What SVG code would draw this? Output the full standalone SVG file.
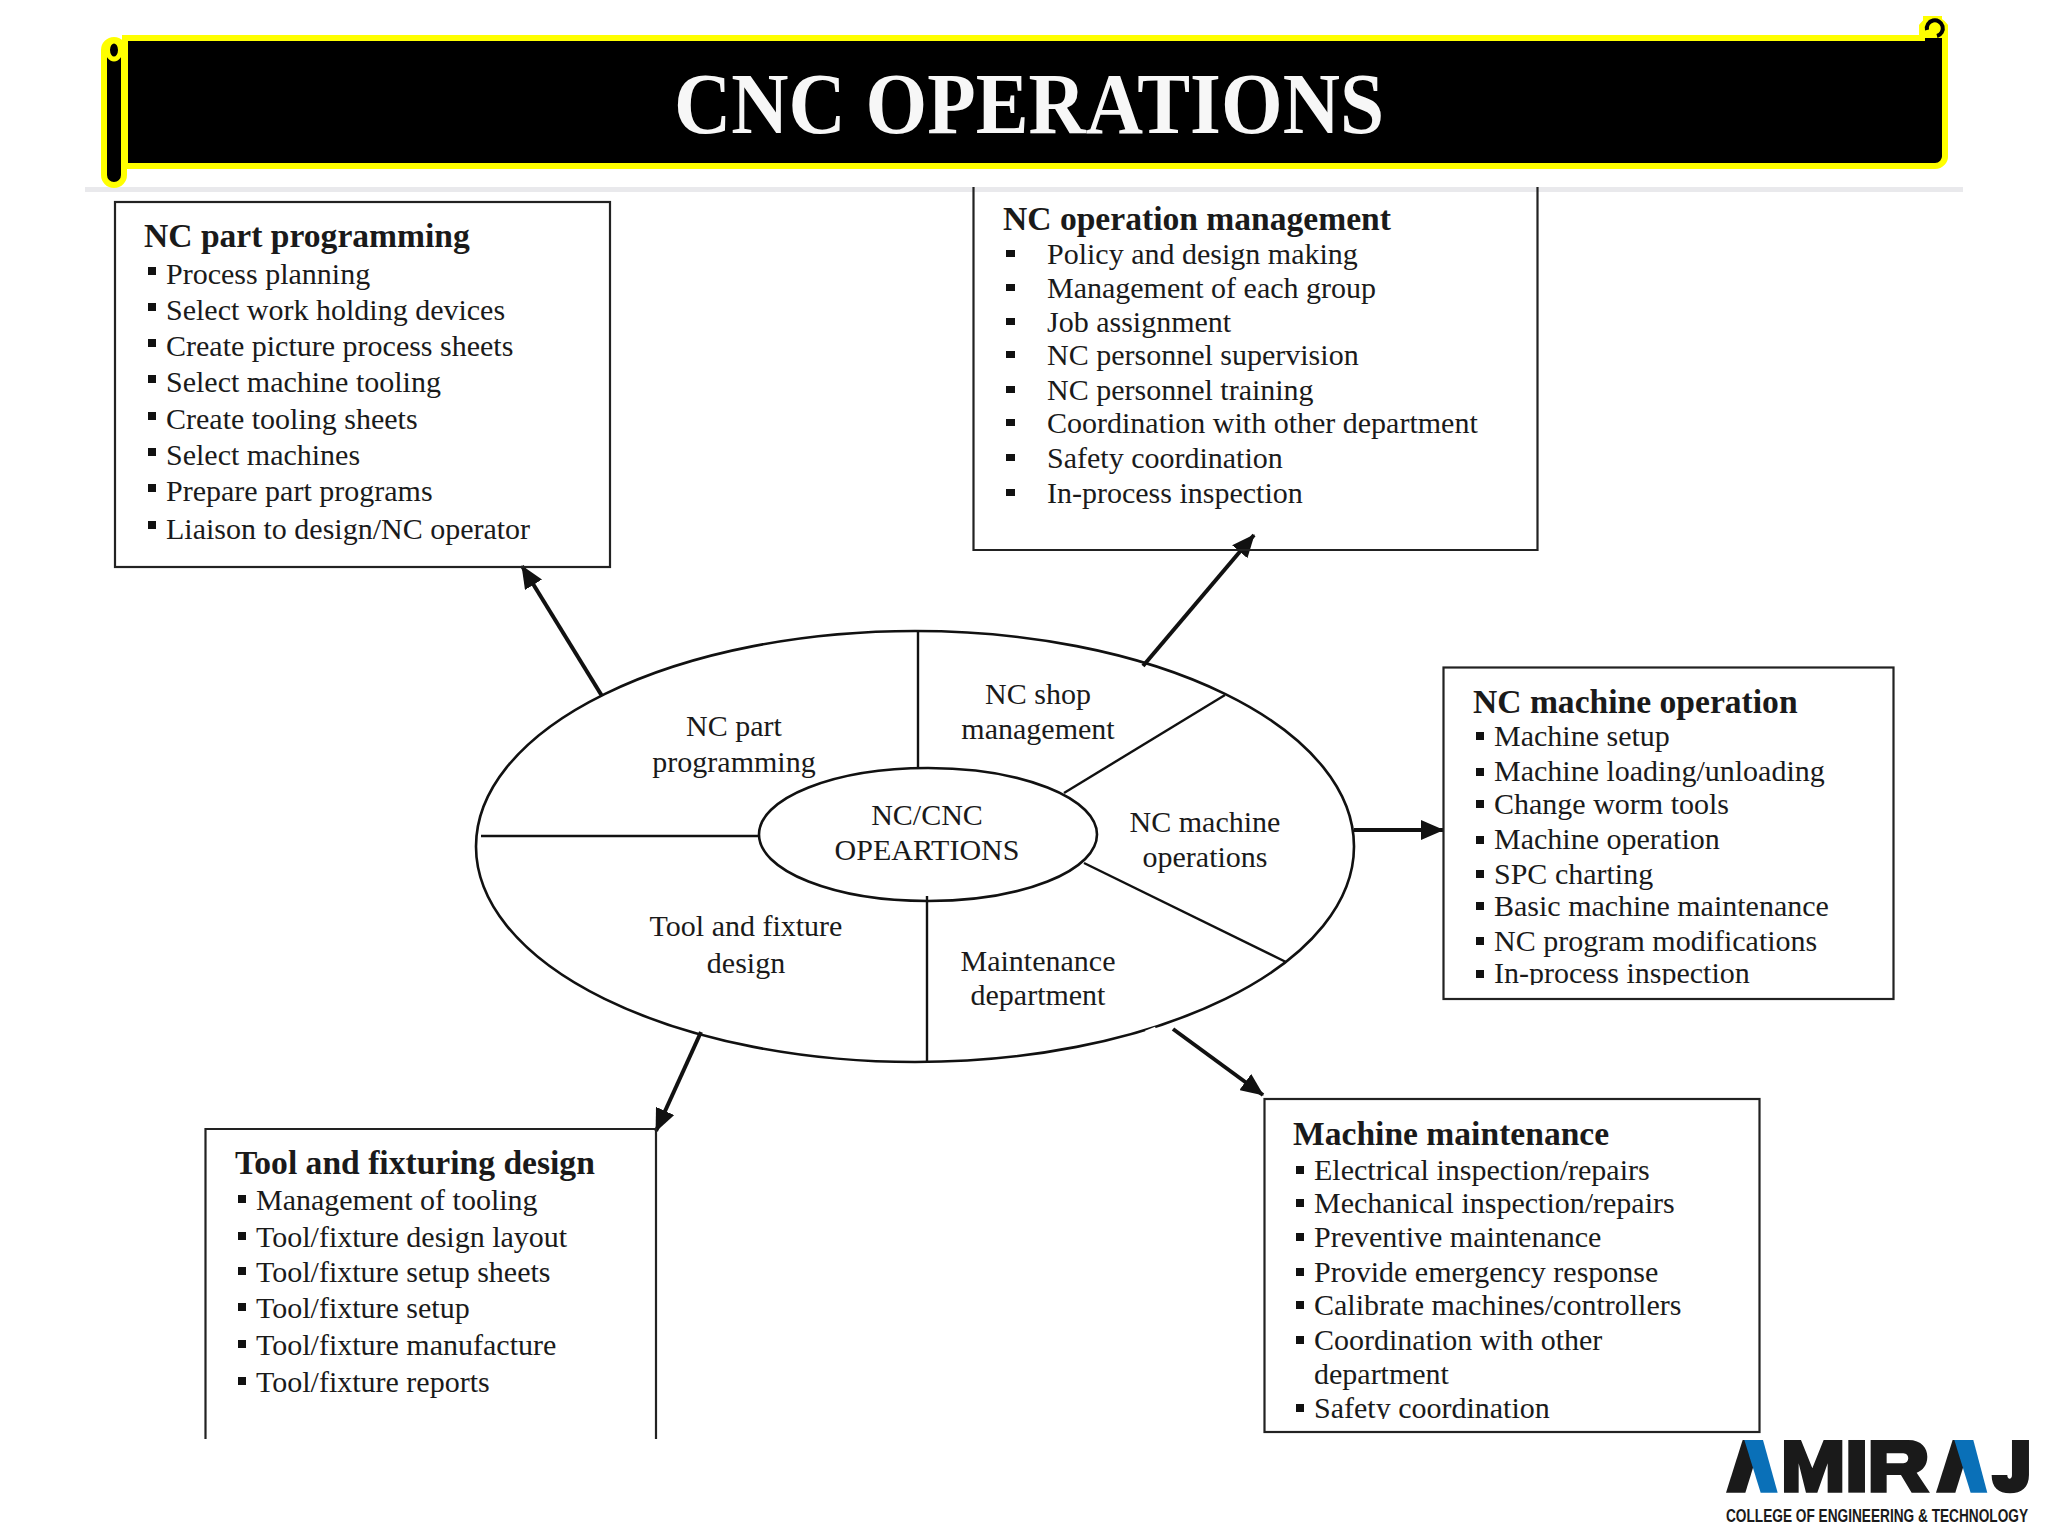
<svg xmlns="http://www.w3.org/2000/svg" width="2048" height="1536" viewBox="0 0 2048 1536">
<style>
text{font-family:"Liberation Serif","Times New Roman",serif;fill:#1a1a1a;font-size:30px}
.h{font-weight:bold;font-size:33.6px}
.c{text-anchor:middle}
.box{fill:none;stroke:#222;stroke-width:2.2}
.b{fill:#111}
.div{stroke:#111;stroke-width:2.4;fill:none}
.arr{stroke:#111;stroke-width:4;fill:none;marker-end:url(#ah)}
.k{fill:#1a1a1a}
.bl{fill:#0a70b8}
</style>
<defs>
<marker id="ah" markerUnits="userSpaceOnUse" markerWidth="24" markerHeight="20" refX="22" refY="10" orient="auto"><path d="M0 0L23 10L0 20Z" fill="#111"/></marker>
<clipPath id="c3"><rect x="1440" y="960" width="460" height="25"/></clipPath>
<clipPath id="c4"><rect x="1260" y="1390" width="500" height="29"/></clipPath>
</defs>
<rect width="2048" height="1536" fill="#fff"/>
<g id="banner">
<rect x="85" y="187" width="1878" height="5" fill="#e9e9ec"/>
<path d="M125 38H1922V26A14 14 0 0 1 1945 26V155A10 10 0 0 1 1935 166H125Z" fill="#000" stroke="#ff0" stroke-width="6"/>
<rect x="104" y="40" width="20" height="145" rx="10" fill="#000" stroke="#ff0" stroke-width="6"/>
<ellipse cx="114" cy="50" rx="6.5" ry="9" fill="#000" stroke="#ff0" stroke-width="5"/>
<path d="M1923 16H1942V38H1923Z" fill="#ff0"/>
<path d="M1927 30A8 8 0 1 1 1937 36" fill="none" stroke="#000" stroke-width="4"/>
<text x="674" y="133" textLength="710" lengthAdjust="spacingAndGlyphs" style="font-weight:bold;fill:#f7f7f7;font-size:86px">CNC OPERATIONS</text>
</g>
<g id="connectors">
<line class="arr" x1="602" y1="696" x2="522" y2="566"/>
<line class="arr" x1="1143" y1="666" x2="1254" y2="535"/>
<line class="arr" x1="1354" y1="830" x2="1443" y2="830"/>
<line class="arr" x1="1173" y1="1029" x2="1263" y2="1095"/>
<line class="arr" x1="701" y1="1032" x2="656" y2="1131"/>
</g>
<g id="wheel">
<ellipse cx="915" cy="846.5" rx="439" ry="215.5" class="div" style="stroke-width:2.6"/>
<line x1="1146" y1="1033" x2="1156" y2="1029" stroke="#fff" stroke-width="5"/>
<ellipse cx="928" cy="834.5" rx="169" ry="66.5" class="div" style="stroke-width:2.6"/>
<line class="div" x1="918" y1="631" x2="918" y2="768"/>
<line class="div" x1="481" y1="836" x2="759" y2="836"/>
<line class="div" x1="1064" y1="793" x2="1225" y2="695"/>
<line class="div" x1="1084" y1="863" x2="1286" y2="962"/>
<line class="div" x1="927" y1="896" x2="927" y2="1062"/>
<text class="c" x="734" y="736">NC part</text><text class="c" x="734" y="772">programming</text>
<text class="c" x="1038" y="704">NC shop</text><text class="c" x="1038" y="739">management</text>
<text class="c" x="927" y="825">NC/CNC</text><text class="c" x="927" y="860">OPEARTIONS</text>
<text class="c" x="1205" y="832">NC machine</text><text class="c" x="1205" y="867">operations</text>
<text class="c" x="746" y="936">Tool and fixture</text><text class="c" x="746" y="973">design</text>
<text class="c" x="1038" y="971">Maintenance</text><text class="c" x="1038" y="1005">department</text>
</g>
<g id="part-programming">
<rect class="box" x="115" y="202" width="495" height="365"/>
<text class="h" x="144" y="247">NC part programming</text>
<text x="166" y="284">Process planning</text><text x="166" y="320">Select work holding devices</text><text x="166" y="356">Create picture process sheets</text><text x="166" y="392">Select machine tooling</text><text x="166" y="429">Create tooling sheets</text><text x="166" y="465">Select machines</text><text x="166" y="501">Prepare part programs</text><text x="166" y="539">Liaison to design/NC operator</text>
<rect class="b" x="148" y="267" width="8" height="8"/><rect class="b" x="148" y="303" width="8" height="8"/><rect class="b" x="148" y="339" width="8" height="8"/><rect class="b" x="148" y="375" width="8" height="8"/><rect class="b" x="148" y="412" width="8" height="8"/><rect class="b" x="148" y="448" width="8" height="8"/><rect class="b" x="148" y="484" width="8" height="8"/><rect class="b" x="148" y="521" width="8" height="8"/>
</g>
<g id="operation-management">
<path class="box" d="M973.5 187V550H1537.5V187"/>
<text class="h" x="1003" y="230">NC operation management</text>
<text x="1047" y="264">Policy and design making</text><text x="1047" y="298">Management of each group</text><text x="1047" y="332">Job assignment</text><text x="1047" y="365">NC personnel supervision</text><text x="1047" y="400">NC personnel training</text><text x="1047" y="433">Coordination with other department</text><text x="1047" y="468">Safety coordination</text><text x="1047" y="503">In-process inspection</text>
<rect class="b" x="1006" y="250" width="9" height="7"/><rect class="b" x="1006" y="284" width="9" height="7"/><rect class="b" x="1006" y="318" width="9" height="7"/><rect class="b" x="1006" y="351" width="9" height="7"/><rect class="b" x="1006" y="386" width="9" height="7"/><rect class="b" x="1006" y="419" width="9" height="7"/><rect class="b" x="1006" y="454" width="9" height="7"/><rect class="b" x="1006" y="489" width="9" height="7"/>
</g>
<g id="machine-operation">
<rect class="box" x="1443.5" y="667.5" width="450" height="331.5"/>
<text class="h" x="1473" y="713">NC machine operation</text>
<text x="1494" y="746">Machine setup</text><text x="1494" y="781">Machine loading/unloading</text><text x="1494" y="814">Change worm tools</text><text x="1494" y="849">Machine operation</text><text x="1494" y="884">SPC charting</text><text x="1494" y="916">Basic machine maintenance</text><text x="1494" y="951">NC program modifications</text><text x="1494" y="983" clip-path="url(#c3)">In-process inspection</text>
<rect class="b" x="1476" y="732" width="8" height="8"/><rect class="b" x="1476" y="768" width="8" height="8"/><rect class="b" x="1476" y="800" width="8" height="8"/><rect class="b" x="1476" y="836" width="8" height="8"/><rect class="b" x="1476" y="870" width="8" height="8"/><rect class="b" x="1476" y="902" width="8" height="8"/><rect class="b" x="1476" y="937" width="8" height="8"/><rect class="b" x="1476" y="970" width="8" height="8"/>
</g>
<g id="machine-maintenance">
<rect class="box" x="1264.5" y="1099" width="495" height="333"/>
<text class="h" x="1293" y="1145">Machine maintenance</text>
<text x="1314" y="1180">Electrical inspection/repairs</text><text x="1314" y="1213">Mechanical inspection/repairs</text><text x="1314" y="1247">Preventive maintenance</text><text x="1314" y="1282">Provide emergency response</text><text x="1314" y="1315">Calibrate machines/controllers</text><text x="1314" y="1350">Coordination with other</text><text x="1314" y="1384">department</text><text x="1314" y="1418" clip-path="url(#c4)">Safety coordination</text>
<rect class="b" x="1296" y="1166" width="8" height="8"/><rect class="b" x="1296" y="1199" width="8" height="8"/><rect class="b" x="1296" y="1233" width="8" height="8"/><rect class="b" x="1296" y="1268" width="8" height="8"/><rect class="b" x="1296" y="1301" width="8" height="8"/><rect class="b" x="1296" y="1336" width="8" height="8"/><rect class="b" x="1296" y="1404" width="8" height="8"/>
</g>
<g id="fixturing-design">
<path class="box" d="M205.5 1439V1129H656V1439"/>
<text class="h" x="235" y="1174">Tool and fixturing design</text>
<text x="256" y="1210">Management of tooling</text><text x="256" y="1247">Tool/fixture design layout</text><text x="256" y="1282">Tool/fixture setup sheets</text><text x="256" y="1318">Tool/fixture setup</text><text x="256" y="1355">Tool/fixture manufacture</text><text x="256" y="1392">Tool/fixture reports</text>
<rect class="b" x="238" y="1195" width="8" height="8"/><rect class="b" x="238" y="1232" width="8" height="8"/><rect class="b" x="238" y="1267" width="8" height="8"/><rect class="b" x="238" y="1303" width="8" height="8"/><rect class="b" x="238" y="1340" width="8" height="8"/><rect class="b" x="238" y="1377" width="8" height="8"/>
</g>
<g id="logo">
<g transform="translate(1700 1400) scale(.3333)">
<path class="k" d="M78 278L128 120H136L160 200L136 278Z"/>
<path class="bl" d="M133 120H189L233 278H182Z"/>
<path class="k" d="M252 278V120H303L337 205L371 120H427V278H383V190L352 278H318L296 190V278Z"/>
<rect class="k" x="445" y="120" width="50" height="158"/>
<path class="k" fill-rule="evenodd" d="M512 120H625C665 120 682 145 682 170C682 195 668 212 650 218L690 278H635L603 225H560V278H512ZM560 160V190H610C630 190 630 160 610 160Z"/>
<path class="k" d="M708 278L758 120H766L790 200L766 278Z"/>
<path class="bl" d="M763 120H820L862 278H812Z"/>
<path class="k" d="M936 120H987V225C987 262 965 280 930 280C895 280 875 262 875 225H922C922 240 936 240 936 225Z"/>
</g>
<text x="1726" y="1522" textLength="302" lengthAdjust="spacingAndGlyphs" style="font-family:'Liberation Sans',Arial,sans-serif;font-weight:bold;font-size:19px">COLLEGE OF ENGINEERING &amp; TECHNOLOGY</text>
</g>
</svg>
